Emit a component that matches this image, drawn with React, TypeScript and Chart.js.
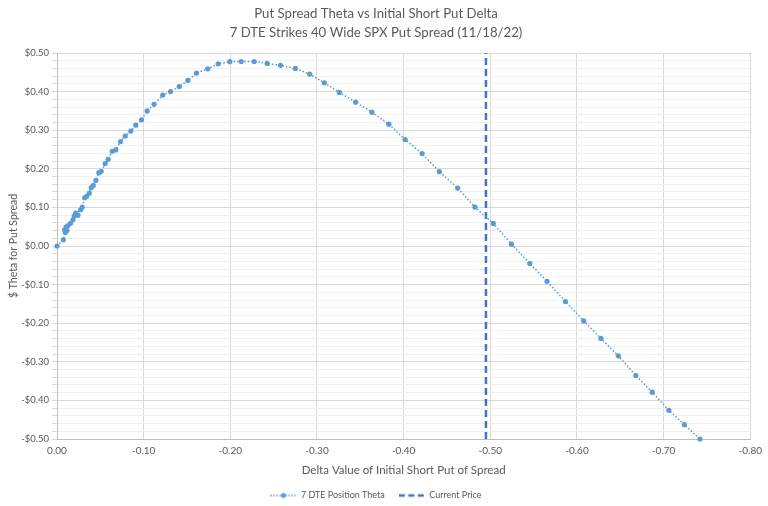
import React, { useEffect, useRef } from "react";
import { Chart, registerables } from "chart.js";

Chart.register(...registerables);

const deltaValues = [
  0, -0.0073, -0.0096, -0.0088, -0.0115, -0.0104, -0.0127, -0.0157, -0.0184, -0.0199,
  -0.0242, -0.0215, -0.0273, -0.0291, -0.0319, -0.0342, -0.0372, -0.0395, -0.0418, -0.0449,
  -0.0483, -0.051, -0.0556, -0.059, -0.0637, -0.0679, -0.0733, -0.0787, -0.0852, -0.0909,
  -0.0975, -0.104, -0.112, -0.122, -0.131, -0.141, -0.151, -0.161, -0.174, -0.186,
  -0.1995, -0.2126, -0.2275, -0.2425, -0.258, -0.275, -0.2916, -0.3085, -0.3258, -0.3446,
  -0.3634, -0.383, -0.4017, -0.4213, -0.4412, -0.4624, -0.4823, -0.5034, -0.5245, -0.5456,
  -0.5655, -0.5867, -0.6078, -0.6277, -0.6477, -0.668, -0.6868, -0.706, -0.724, -0.742,
];

const thetaValues = [
  0, 0.016, 0.035, 0.042, 0.04, 0.049, 0.053, 0.059, 0.068, 0.078,
  0.08, 0.085, 0.094, 0.1008, 0.125, 0.1286, 0.137, 0.151, 0.157, 0.17,
  0.19, 0.1935, 0.2135, 0.2247, 0.2455, 0.249, 0.2706, 0.285, 0.298, 0.313,
  0.327, 0.35, 0.367, 0.391, 0.4, 0.413, 0.429, 0.448, 0.459, 0.472,
  0.4775, 0.478, 0.478, 0.473, 0.468, 0.46, 0.4455, 0.423, 0.398, 0.3727,
  0.3468, 0.3156, 0.276, 0.2394, 0.1927, 0.15, 0.1008, 0.0584, 0.0047, -0.0455,
  -0.0914, -0.144, -0.194, -0.2395, -0.2844, -0.3356, -0.3787, -0.4255, -0.4628, -0.5,
];

const currentPriceDelta = -0.495;
const currentPriceRange = [-0.5, 0.5];

const titleLines = [
  "Put Spread Theta vs Initial Short Put Delta",
  "7 DTE Strikes 40 Wide SPX Put Spread (11/18/22)",
];
const seriesLabels = ["7 DTE Position Theta", "Current Price"];
const xAxisTitle = "Delta Value of Initial Short Put of Spread";
const yAxisTitle = "$ Theta for Put Spread";

const SERIES_COLOR = "#5B9BD5";
const CURRENT_COLOR = "#4472C4";
const TEXT_COLOR = "#595959";

function makeIcon(kind: "dots" | "dash"): HTMLCanvasElement {
  const c = document.createElement("canvas");
  c.width = 26;
  c.height = 8;
  const g = c.getContext("2d")!;
  g.lineCap = "butt";
  if (kind === "dots") {
    g.strokeStyle = SERIES_COLOR;
    g.lineWidth = 1.5;
    g.setLineDash([1.5, 1.5]);
    g.beginPath();
    g.moveTo(0, 4);
    g.lineTo(26, 4);
    g.stroke();
    g.fillStyle = SERIES_COLOR;
    g.beginPath();
    g.arc(13, 4, 2.5, 0, Math.PI * 2);
    g.fill();
  } else {
    g.strokeStyle = CURRENT_COLOR;
    g.lineWidth = 2.5;
    g.setLineDash([6, 3.5]);
    g.beginPath();
    g.moveTo(0, 4);
    g.lineTo(26, 4);
    g.stroke();
  }
  return c;
}

export default function App() {
  const ref = useRef<HTMLCanvasElement | null>(null);

  useEffect(() => {
    if (!ref.current) return;
    Chart.defaults.font.family = "Lato, 'Open Sans', sans-serif";
    Chart.defaults.color = TEXT_COLOR;

    const icons = [makeIcon("dots"), makeIcon("dash")];
    const seriesData = deltaValues.map((d, i) => ({ x: d, y: thetaValues[i] }));
    const currentData = currentPriceRange.map((y) => ({ x: currentPriceDelta, y }));

    const isMajor = (v: number) => Math.round(v * 100) % 10 === 0;

    const chart = new Chart(ref.current, {
      type: "scatter",
      data: {
        datasets: [
          {
            label: seriesLabels[0],
            data: seriesData,
            showLine: true,
            clip: false,
            borderColor: SERIES_COLOR,
            borderWidth: 1.5,
            borderDash: [1.5, 2],
            backgroundColor: SERIES_COLOR,
            pointBackgroundColor: SERIES_COLOR,
            pointBorderWidth: 0,
            pointRadius: 2.6,
          },
          {
            label: seriesLabels[1],
            data: currentData,
            showLine: true,
            borderColor: CURRENT_COLOR,
            borderWidth: 2.5,
            borderDash: [7, 4],
            pointRadius: 0,
            backgroundColor: CURRENT_COLOR,
          },
        ],
      },
      options: {
        responsive: false,
        animation: false,
        layout: { padding: { left: 0, right: 16, top: 0, bottom: -4 } },
        plugins: {
          tooltip: { enabled: false },
          title: {
            display: true,
            text: titleLines,
            color: TEXT_COLOR,
            font: { size: 13.2, weight: "normal", lineHeight: 1.44 },
            padding: { top: 4.5, bottom: 10.5 },
          },
          legend: {
            position: "bottom",
            labels: {
              color: TEXT_COLOR,
              font: { size: 9 },
              usePointStyle: true,
              pointStyleWidth: 26,
              boxHeight: 8,
              padding: 14,
              generateLabels: (ch: any) => {
                const base = Chart.defaults.plugins.legend.labels.generateLabels(ch);
                return base.map((it: any, i: number) => ({ ...it, pointStyle: icons[i], fontColor: TEXT_COLOR }));
              },
            },
          },
        },
        scales: {
          x: {
            type: "linear",
            reverse: true,
            min: -0.8,
            max: 0,
            afterFit: (s: any) => {
              s.height = 38;
            },
            ticks: {
              stepSize: 0.1,
              padding: 6,
              font: { size: 10 },
              color: TEXT_COLOR,
              callback: (v: any) => Number(v).toFixed(2),
            },
            grid: { color: "#d9d9d9", drawTicks: false, lineWidth: 1 },
            border: { color: "#bfbfbf" },
            title: {
              display: true,
              text: xAxisTitle,
              color: TEXT_COLOR,
              font: { size: 11.5 },
              padding: { top: 2, bottom: 0 },
            },
          },
          y: {
            type: "linear",
            min: -0.5,
            max: 0.5,
            afterFit: (s: any) => {
              s.width = 57;
            },
            ticks: {
              stepSize: 0.02,
              autoSkip: false,
              padding: 3,
              font: { size: 9.5 },
              color: TEXT_COLOR,
              callback: (v: any) => {
                const n = Number(v);
                if (!isMajor(n)) return "";
                const r = Math.round(n * 100) / 100;
                return (r < 0 ? "-" : "") + "$" + Math.abs(r).toFixed(2);
              },
            },
            grid: {
              color: (ctx: any) => (isMajor(ctx.tick.value) ? "#d9d9d9" : "#f0f0f0"),
              tickColor: "#d9d9d9",
              tickLength: 5,
              lineWidth: 1,
            },
            border: { color: "#bfbfbf" },
            title: {
              display: true,
              text: yAxisTitle,
              color: TEXT_COLOR,
              font: { size: 10.5 },
              padding: { top: 7.5, bottom: 0 },
            },
          },
        },
      },
    } as any);

    return () => chart.destroy();
  }, []);

  return (
    <div style={{ position: "absolute", left: 0, top: 0, width: 768, height: 506, background: "#fff" }}>
      <canvas ref={ref} width={768} height={506} />
    </div>
  );
}
